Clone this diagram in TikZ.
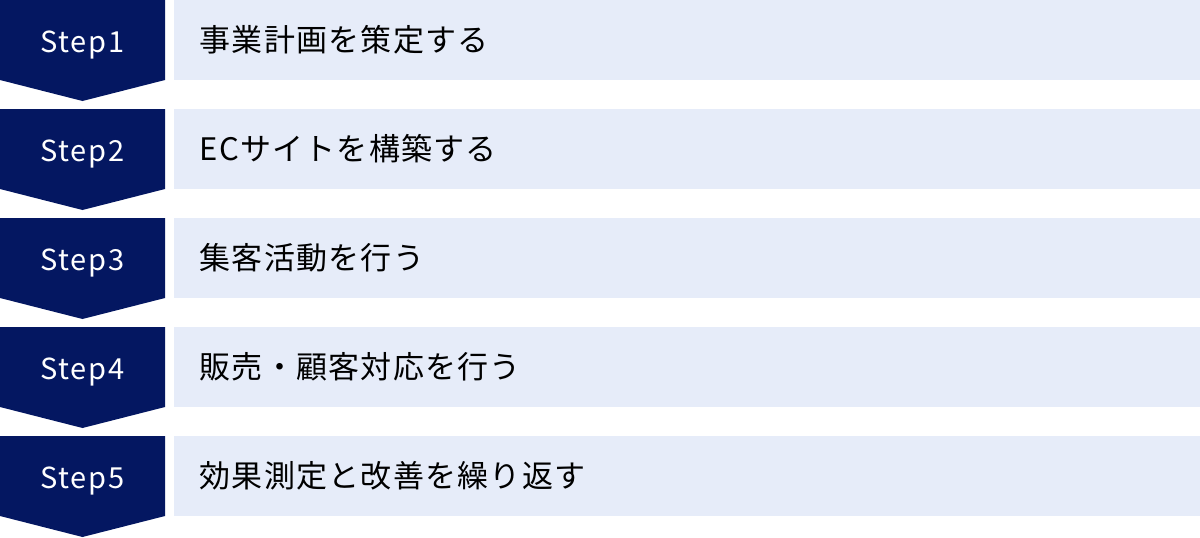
\documentclass[tikz,border=0pt]{standalone}
\usepackage{fontspec}
\setmainfont{Noto Sans CJK JP}
\usepackage{tikz}
\usetikzlibrary{positioning}
\definecolor{mnavy}{HTML}{041761}
\definecolor{mpale}{HTML}{E6ECF9}
\tikzset{
  steplabel/.style={text=white, inner sep=0pt, anchor=base, font=\fontsize{29}{34}\selectfont\addfontfeature{LetterSpace=6}},
  tasklabel/.style={text=black, inner sep=0pt, anchor=west, font=\fontsize{31}{37}\selectfont\addfontfeature{LetterSpace=4}}
}

\begin{document}
\begin{tikzpicture}[x=1pt, y=1pt]
      \useasboundingbox (0, 0) rectangle (1200, -538);
      \foreach \i/\task in {1/事業計画を策定する, 2/ECサイトを構築する, 3/集客活動を行う, 4/販売・顧客対応を行う, 5/効果測定と改善を繰り返す} {
        \pgfmathsetmacro{\top}{-109*(\i-1)}
        \fill [mnavy] (0, \top) -- (165, \top) -- (165, \top-80) -- (82.5, \top-101) -- (0, \top-80) -- cycle;
        \fill [mpale] (174, \top) rectangle (1200, \top-80);
        \node [steplabel] (step\i) at (82.5, \top-52) {Step\i};
        \node [tasklabel] (task\i) at (199.5, \top-40) {\task};
      }
    \end{tikzpicture}
\end{document}
